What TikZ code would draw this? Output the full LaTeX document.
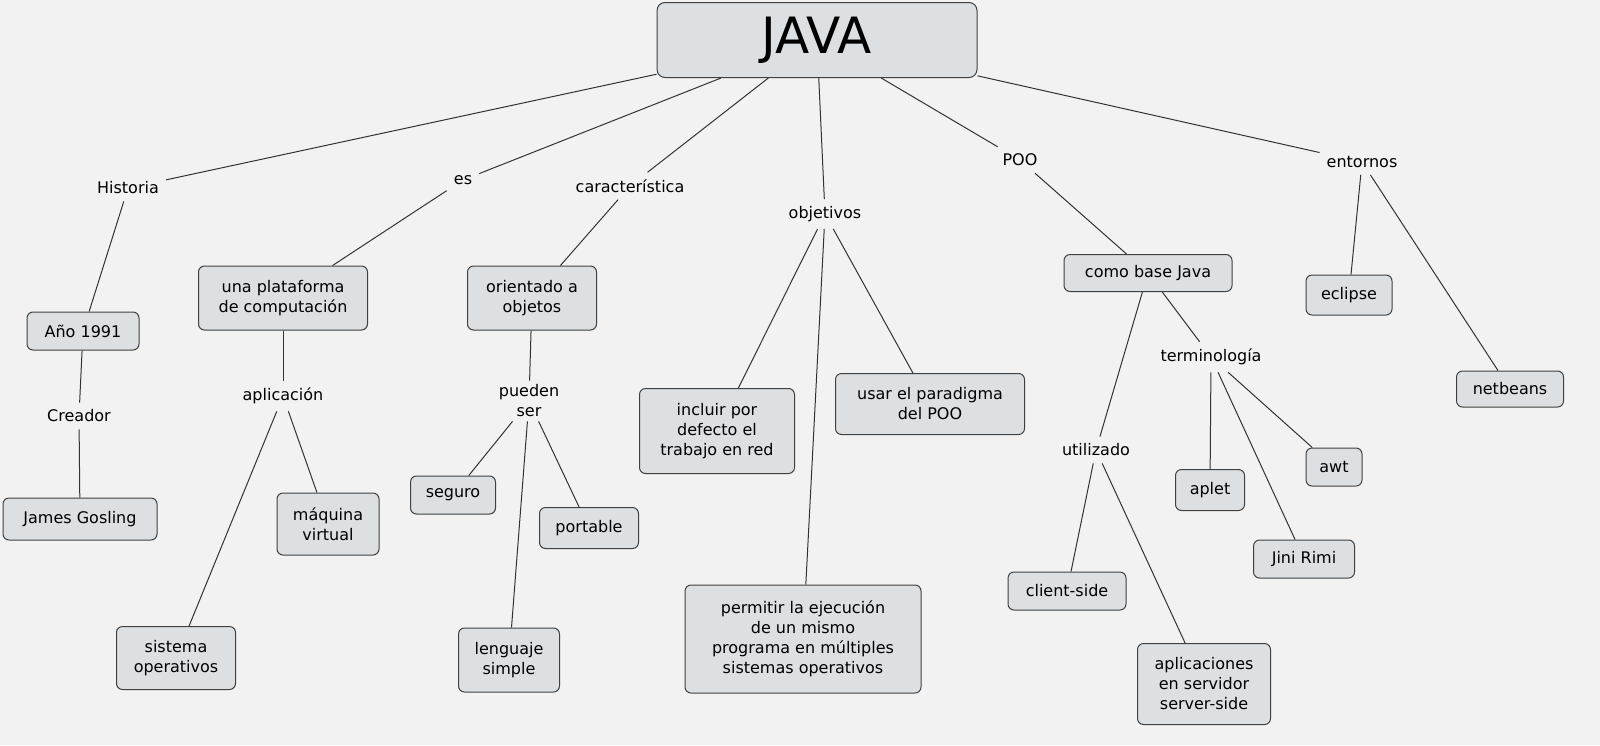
\documentclass[tikz,border=0pt]{standalone}
\usepackage{fontspec}
\setmainfont{DejaVu Sans}
\begin{document}
\begin{tikzpicture}[x=1pt,y=-1pt,
  box/.style={draw=black!75,line width=1pt,fill=boxc,rounded corners=6pt,align=center,font=\fontsize{16}{20}\selectfont,inner sep=3pt},
  lab/.style={align=center,font=\fontsize{16}{20}\selectfont,inner sep=7pt},
  ln/.style={draw=black!80,line width=1pt}]
\definecolor{bg}{HTML}{F2F2F2}
\definecolor{boxc}{HTML}{DCE0E2}
\useasboundingbox (0,0) rectangle (1600,745);
\fill[bg] (0,0) rectangle (1600,745);
\node[box,minimum width=320,minimum height=75,rounded corners=8pt,font=\fontsize{50}{56}\selectfont] (java) at (817,40) {JAVA};
\node[lab] (hist) at (128,188) {Historia};
\node[lab] (es) at (463,180) {es};
\node[lab] (car) at (630,186) {característica};
\node[lab] (obj) at (825,214) {objetivos};
\node[lab] (poo) at (1020,160) {POO};
\node[lab] (ent) at (1362,162) {entornos};
\node[box,minimum width=112,minimum height=38] (anio) at (83,331) {Año 1991};
\node[lab] (crea) at (79,416) {Creador};
\node[box,minimum width=154,minimum height=42] (james) at (80,519) {James Gosling};
\node[box,minimum width=169,minimum height=64] (plat) at (283,298) {una plataforma\\de computación};
\node[lab] (apl) at (283,396) {aplicación};
\node[box,minimum width=102,minimum height=62] (maq) at (328,524) {máquina\\virtual};
\node[box,minimum width=119,minimum height=63] (sis) at (176,658) {sistema\\operativos};
\node[box,minimum width=129,minimum height=64] (ori) at (532,298) {orientado a\\objetos};
\node[lab,inner sep=4pt] (pue) at (529,401) {pueden\\ser};
\node[box,minimum width=85,minimum height=38] (seg) at (453,495) {seguro};
\node[box,minimum width=99,minimum height=41] (por) at (589,528) {portable};
\node[box,minimum width=101,minimum height=64] (len) at (509,660) {lenguaje\\simple};
\node[box,minimum width=155,minimum height=85] (inc) at (717,431) {incluir por\\defecto el\\trabajo en red};
\node[box,minimum width=189,minimum height=61] (usa) at (930,404) {usar el paradigma\\del POO};
\node[box,minimum width=236,minimum height=108] (per) at (803,639) {permitir la ejecución\\de un mismo\\programa en múltiples\\sistemas operativos};
\node[box,minimum width=168,minimum height=37] (com) at (1148,273) {como base Java};
\node[lab] (ter) at (1211,357) {terminología};
\node[lab] (uti) at (1096,450) {utilizado};
\node[box,minimum width=118,minimum height=38] (cli) at (1067,591) {client-side};
\node[box,minimum width=133,minimum height=81] (apli) at (1204,684) {aplicaciones\\en servidor\\server-side};
\node[box,minimum width=69,minimum height=41] (aplet) at (1210,490) {aplet};
\node[box,minimum width=56,minimum height=38] (awt) at (1334,467) {awt};
\node[box,minimum width=101,minimum height=38] (jini) at (1304,559) {Jini Rimi};
\node[box,minimum width=86,minimum height=40] (ecl) at (1349,295) {eclipse};
\node[box,minimum width=107,minimum height=36] (net) at (1510,389) {netbeans};
\foreach \a/\b in {java/hist,hist/anio,anio/crea,crea/james,java/es,es/plat,plat/apl,apl/maq,apl/sis,
  java/car,car/ori,ori/pue,pue/seg,pue/por,pue/len,java/obj,obj/inc,obj/usa,obj/per,
  java/poo,poo/com,com/ter,com/uti,uti/cli,uti/apli,ter/aplet,ter/awt,ter/jini,java/ent,ent/ecl,ent/net}
  \draw[ln] (\a) -- (\b);
\end{tikzpicture}
\end{document}
